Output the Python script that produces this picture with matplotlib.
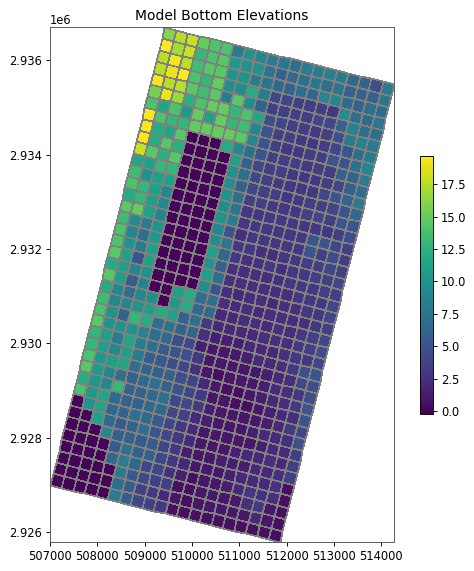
import numpy as np
import matplotlib
matplotlib.use("Agg")
import matplotlib.pyplot as plt

# grid: 40 rows x 20 cols, 250 m cells, rotated 14 deg about lower-left corner
X_ORIGIN = 507000
Y_ORIGIN = 2927000
ROTATION = 14.0
CELL = 250.0

X_TICKS = [507000, 508000, 509000, 510000, 511000, 512000, 513000, 514000]
Y_TICKS = [2926000, 2928000, 2930000, 2932000, 2934000, 2936000]
CBAR_TICKS = [0.0, 2.5, 5.0, 7.5, 10.0, 12.5, 15.0, 17.5]

# bottom elevations, row 0 is the north edge
botm = [
    [16, 17.5, 18, 15, 14, 14, 8, 10, 9, 8, 7.5, 7, 8, 8, 8.5, 8, 6.5, 6, 4.5, 8],
    [19.6, 17, 18, 13, 14, 14.5, 10.5, 10, 10, 7.5, 6, 6.5, 7, 7.5, 7, 7.5, 6, 6, 6, 7.5],
    [17.5, 19.2, 17.5, 13.5, 14.5, 14.5, 10, 10, 8, 7.5, 6.5, 6, 7, 6.5, 9, 9, 6.5, 6, 7, 6.5],
    [17.5, 19, 19.66, 14, 13, 15, 9.5, 9.5, 12, 8, 4, 4, 3.5, 3.5, 3.5, 3, 9.5, 7, 6.5, 7.5],
    [19.5, 17.5, 17.5, 14.5, 13.5, 14.5, 8, 14.5, 9.5, 6, 3.5, 3.5, 3.5, 3.5, 4, 4, 6, 8.5, 7, 7],
    [15.5, 19, 16.5, 12.5, 14, 15, 15, 13, 14, 11.5, 4.5, 4, 3.5, 3.5, 3, 3.5, 4.5, 8, 8.5, 8],
    [14, 11.5, 14, 10.5, 15, 11, 15, 13, 13.5, 9, 5, 3.5, 3.5, 3, 3, 3.5, 4, 5, 7, 8],
    [19.5, 14, 13, 13, 15, 15, 15, 15, 14.5, 9, 5, 3.5, 3, 3, 3.5, 3.5, 5, 5, 7, 9],
    [19.5, 12, 11.5, 14.5, -0.2, 0, 0, 12, 9, 7, 5, 3.5, 3.5, 3.5, 3, 3.5, 3.5, 6, 6, 8],
    [19.5, 12, 14.5, 12.5, 0, 0, 0, 0, 11, 6, 4, 3.5, 3.5, 3, 3, 3, 3.5, 4, 6, 7],
    [18, 14.5, 12.5, 14.5, 0, 0, 0, 0, 10, 7, 4, 3.5, 3, 3, 3, 3, 4, 5, 6, 8],
    [11.5, 11, 13, 13, 0, 0, 0, 0, 9.5, 6, 4, 3.5, 3.5, 3, 3, 3.5, 3.5, 4, 5, 6.5],
    [13.5, 10, 11, 11, 0, 0, 0, 0, 10, 7, 3.5, 3.5, 3, 3, 3, 3.5, 4, 3.5, 5, 5],
    [14, 13, 11, 9, 0, 0, 0, 0, 9.5, 7.5, 3, 3, 3, 3, 3, 3, 3, 3, 3.5, 4.5],
    [12, 13, 11, 9, 0, 0, 0, 0, 10, 8, 3, 3, 3, 3, 3, 3, 5, 5, 4, 3.5],
    [14.5, 15, 11, 9, 0, 0, 0, 0, 9, 5, 2.5, 3, 3, 3, 3, 3, 5, 3.5, 4.5, 3.5],
    [13.5, 9.5, 8, 10, 0, 0, 0, 0, 9.5, 7.5, 3, 3, 2.5, 2.5, 3, 3, 3.5, 3.5, 4, 3.5],
    [14, 9, 7, 10.5, 0, 0, 0, 0, 11, 6.5, 3, 2.5, 2.5, 3, 2.5, 3, 3, 3.5, 3.5, 4],
    [14, 10, 8, 11, 0, 0, 0, 0, 10, 6, 2.5, 2.5, 2.5, 2.5, 2.5, 3, 3, 3, 3.5, 3.5],
    [14.5, 11, 5, 11, 0, 0, 0, 0, 11, 7, 2.5, 2.5, 2.5, 2.5, 2.5, 2.5, 3, 3, 3, 4],
    [12, 11, 9, 10, 0, 0, 0, 0, 9.5, 5, 2.5, 2, 2.5, 2.5, 2, 2.5, 2.5, 3, 3, 4],
    [14.5, 11, 5.5, 8.5, 0, 0, 11, 12, 7, 7, 2.5, 2, 2.5, 2, 2.5, 2.5, 2.5, 2.5, 3, 3.5],
    [12, 9, 7, 9, 9.5, 0, 10.5, 12, 6.5, 6.5, 2, 2, 2.5, 2.5, 2, 2.5, 2.5, 3, 3.5, 4],
    [13.5, 9, 9, 10, 11, 12, 11, 6, 7, 3, 2, 2, 2, 2, 2.5, 2.5, 2.5, 3, 3.5, 4.5],
    [14, 10, 6, 13, 12, 7, 7.5, 6, 6, 2.5, 1.5, 1.5, 1.5, 2, 2, 2, 2.5, 3, 3, 4],
    [14.5, 10, 10, 10, 8.5, 7, 6.5, 4.5, 4, 1.5, 1, 1, 1, 1.5, 2, 2, 2.5, 3, 4.5, 5],
    [13, 11, 8, 11.5, 8, 7, 5.5, 5, 4.5, 3, 1, 1, 1, 1, 1, 1.5, 2, 2.5, 4, 4.5],
    [13, 11, 9, 11, 8, 5.5, 5.5, 4.5, 4, 2.5, 1, 0.5, 1, 1, 1, 1.5, 2, 2.5, 3, 4.5],
    [14, 10.5, 11, 11.5, 7, 6, 6, 6, 4.5, 4, 2, 1, 0.5, 0.5, 1, 1.5, 2, 2.5, 3, 5],
    [14.5, 10.5, 9, 7, 6, 6.5, 7, 6, 5, 4, 3, 1, 1, 0.5, 0.5, 1, 1.5, 2, 2.5, 5],
    [12, 10.5, 9, 13, 6, 6, 6.5, 7, 4, 4, 3, 1.5, 1, 1, 1, 1, 1.5, 2, 3, 4],
    [14, 10.5, 11.5, 6.5, 6, 6, 6.5, 6.5, 4, 3.5, 2, 1.5, 1, 1, 1, 1.5, 2, 2, 2.5, 4.5],
    [0, 10, 11.5, 6.5, 6, 7, 6.5, 5.5, 4, 3, 2, 1, 1, 1, 1, 1, 1.5, 2, 2, 3.5],
    [0, 0, 11, 6.5, 5.5, 6, 7, 5, 4, 3, 2, 1, 1, 1, 1.5, 2, 2, 2.5, 2, 3.5],
    [0, 0, 0, 9, 6, 6, 5.5, 5.5, 4, 3, 1.5, 1, 1, 1.5, 1.5, 1.5, 2, 2, 2.5, 3.5],
    [0, 0, 0, 0, 5.5, 7, 6, 6, 4, 3, 2, 1, 1, 1, 1.5, 2, 2, 2, 2.5, 0.5],
    [0, 0, 0, 0, 6.5, 8, 6.5, 4, 4, 2.5, 1.5, 0.5, 1, 1, 1.5, 2, 3, 2.5, 2.5, 0.5],
    [0, 0, 0, 0, 0, 8, 5.5, 4, 3.5, 3.5, 0.5, 0.5, 1, 1, 1, 1, 2.5, 3, 1, 0.5],
    [0, 0, 0, 0, 0, 7, 5.5, 3.5, 3, 2, 1, 0.5, 1, 1, 1, 1, 1, 2, 1, 0.5],
    [0, 0, 0, 0, 0, 8, 5.5, 4, 3.5, 3, 0.5, 0.5, 0.5, 0.5, 0.5, 0.5, 0.5, 0.5, 0.5, 0.5],
]


def grid_vertices(nrow, ncol):
    a = np.radians(ROTATION)
    cc, rr = np.meshgrid(np.arange(ncol + 1), np.arange(nrow + 1))
    u = cc * CELL
    v = (nrow - rr) * CELL
    xv = X_ORIGIN + u * np.cos(a) + v * np.sin(a)
    yv = Y_ORIGIN - u * np.sin(a) + v * np.cos(a)
    return xv, yv


Z = np.array(botm)
xv, yv = grid_vertices(*Z.shape)

W, H = 474, 571
DPI = 83  # reference is a shrunken default figure, so everything scales by this
fig = plt.figure(figsize=(W / DPI, H / DPI), dpi=DPI)
ax = fig.add_axes([50 / W, (H - 542) / H, 344 / W, 515 / H])
pc = ax.pcolormesh(xv, yv, Z, cmap="viridis", edgecolors="grey", linewidth=0.6)
ax.set_xlim(xv.min(), xv.max())
ax.set_ylim(yv.min(), yv.max())
ax.set_xticks(X_TICKS)
ax.set_yticks(Y_TICKS)
ax.ticklabel_format(axis="x", style="plain", useOffset=False)
ax.ticklabel_format(axis="y", style="sci", scilimits=(6, 6), useOffset=False)
ax.set_title("Model Bottom Elevations")
for s in ax.spines.values():
    s.set_edgecolor("#555555")

cax = fig.add_axes([420 / W, (H - 414) / H, 13 / W, 258 / H])
cb = fig.colorbar(pc, cax=cax, ticks=CBAR_TICKS)
cb.ax.set_yticklabels([f"{t:.1f}" for t in CBAR_TICKS])

fig.savefig("out.png", dpi=DPI)
